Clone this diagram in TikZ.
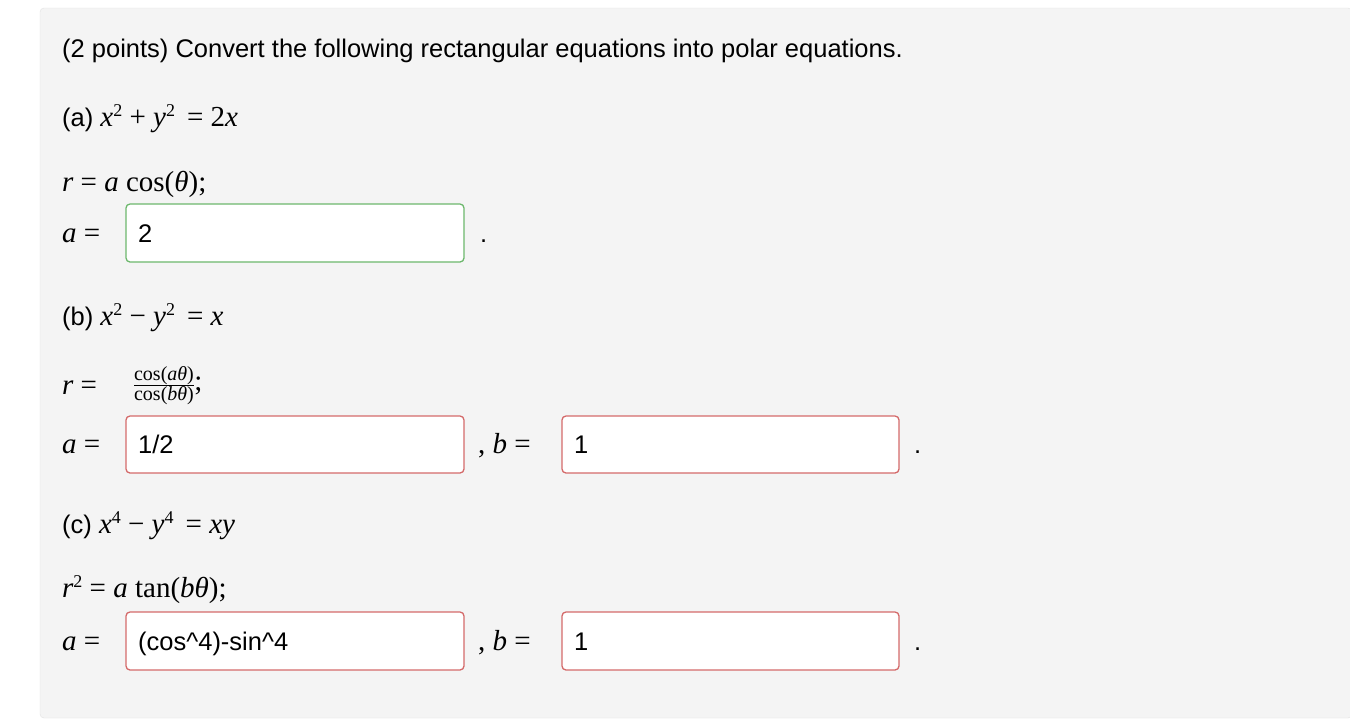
\documentclass[tikz,border=0pt]{standalone}
\usepackage{fontspec}
\setmainfont{Liberation Sans}
\newfontfamily\ms{Liberation Serif}
\newcommand{\mi}[1]{{\ms\itshape #1}}
\definecolor{panel}{HTML}{F4F4F4}
\definecolor{pborder}{HTML}{E2E2E2}
\definecolor{okb}{HTML}{6DB86D}
\definecolor{badb}{HTML}{D46A6A}
\tikzset{
 txt/.style={anchor=base west,inner sep=0pt,font=\fontsize{25.5}{30}\selectfont},
 mth/.style={anchor=base west,inner sep=0pt,font=\fontsize{29}{32}\selectfont\ms},
 ansbox/.style={draw=#1,line width=1.3pt,rounded corners=4pt,fill=white},
}
\begin{document}
\begin{tikzpicture}[x=1pt,y=-1pt]
\useasboundingbox (0,0) rectangle (1350,726);
\fill[white] (0,0) rectangle (1350,726);
\draw[pborder,fill=panel,rounded corners=4pt] (40,8) rectangle (1352,718);
\draw[ansbox=okb] (126,204) rectangle (464,262);
\draw[ansbox=badb] (126,416) rectangle (464,473);
\draw[ansbox=badb] (562,416) rectangle (899,473);
\draw[ansbox=badb] (126,612) rectangle (464,670);
\draw[ansbox=badb] (562,612) rectangle (899,670);
\node[txt] (t0) at (62,57) {(2 points) Convert the following rectangular equations into polar equations.};
\node[txt] (ta) at (62,126) {(a) {\fontsize{29}{32}\selectfont\ms\mi{x}\raisebox{10pt}{\fontsize{18}{20}\selectfont 2} + \mi{y}\raisebox{10pt}{\fontsize{18}{20}\selectfont 2}\ \,= 2\mi{x}}};
\node[mth] (ra) at (62,191) {\mi{r} = \mi{a} cos(\mi{θ});};
\node[mth] (aa) at (62,242) {\mi{a} =};
\node[txt] (va) at (138,242) {2};
\node[txt] (da) at (480,242) {.};
\node[txt] (tb) at (62,325) {(b) {\fontsize{29}{32}\selectfont\ms\mi{x}\raisebox{10pt}{\fontsize{18}{20}\selectfont 2} − \mi{y}\raisebox{10pt}{\fontsize{18}{20}\selectfont 2}\ \,= \mi{x}}};
\node[mth] (rb) at (62,394) {\mi{r} =};
\node[inner sep=0pt,font=\fontsize{20}{22}\selectfont\ms] (fr) at (164,386) {\begin{tabular}{@{}c@{}}cos(\mi{aθ})\\[-2pt]\hline cos(\mi{bθ})\end{tabular}};
\node[mth,anchor=west] (sc) at (fr.east) {;};
\node[mth] (ab) at (62,453) {\mi{a} =};
\node[txt] (vb) at (138,453) {1/2};
\node[mth] (bb) at (478,453) {, \mi{b} =};
\node[txt] (vbb) at (574,453) {1};
\node[txt] (db) at (914,453) {.};
\node[txt] (tc) at (62,533) {(c) {\fontsize{29}{32}\selectfont\ms\mi{x}\raisebox{10pt}{\fontsize{18}{20}\selectfont 4} − \mi{y}\raisebox{10pt}{\fontsize{18}{20}\selectfont 4}\ \,= \mi{xy}}};
\node[mth] (rc) at (62,597) {\mi{r}\raisebox{10pt}{\fontsize{18}{20}\selectfont 2} = \mi{a} tan(\mi{bθ});};
\node[mth] (ac) at (62,650) {\mi{a} =};
\node[txt] (vc) at (138,650) {(cos\^{}4)-sin\^{}4};
\node[mth] (bc) at (478,650) {, \mi{b} =};
\node[txt] (vcb) at (574,650) {1};
\node[txt] (dc) at (914,650) {.};
\end{tikzpicture}
\end{document}
